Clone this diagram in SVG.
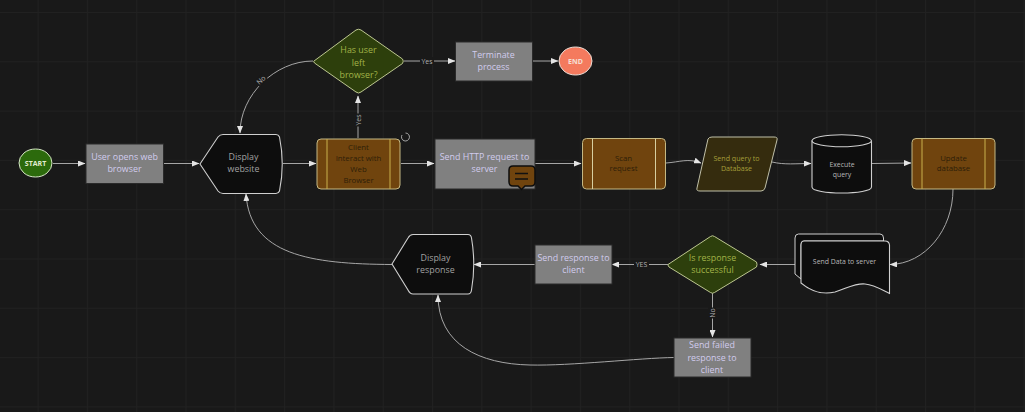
<svg xmlns="http://www.w3.org/2000/svg" width="1025" height="412" viewBox="0 0 1025 412">
<defs>
<marker id="a" markerWidth="8" markerHeight="6" refX="7" refY="3" orient="auto" markerUnits="userSpaceOnUse"><path d="M0 0L7.500 3L0 6Z" fill="#e4e4e4"/></marker>
<pattern id="grid" width="49.3" height="49.3" patternUnits="userSpaceOnUse" x="-11.700" y="12"><path d="M.5 0V49.300M0 .5H49.300" fill="none" stroke="#212121" stroke-width="1"/></pattern>
</defs>
<style>
text{font-family:"Open Sans","Noto Sans",sans-serif;text-anchor:middle;opacity:.98}
.c{fill:none;stroke:#a6a6a6;stroke-width:1;marker-end:url(#a)}
.g{fill:#808080;stroke:#2a2a2a;stroke-width:1}
.gt{fill:#d4cef0;font-size:8.900px}
.b{fill:#0d0d0d;stroke:#cfcfcf;stroke-width:1.100}
.bt{fill:#a4a4a4;font-size:8.900px}
.wt{fill:#bcbcbc;font-size:6.900px}
.o{fill:#70440e;stroke:#c4b884;stroke-width:1}
.ol{stroke:#c9b04c;stroke-width:1;fill:none}
.ot{fill:#2e1e08;font-size:7.800px}
.d{fill:#2d3f0c;stroke:#bcc690;stroke-width:1}
.dt{fill:#a5b64a;font-size:8.900px}
.l{fill:#b4b4b4;font-size:6.900px}
.lb{fill:#191919}
</style>
<rect width="1025" height="412" fill="#191919"/>
<rect width="1025" height="412" fill="url(#grid)"/>
<g id="connectors">
<path class="c" d="M53 163.500H85"/>
<path class="c" d="M164 163.500H199"/>
<path class="c" d="M283 163.500H316"/>
<path class="c" d="M401 163.500H434"/>
<path class="c" d="M535 163.500H581"/>
<path class="c" d="M666 163C680 162 688 158 701 163"/>
<path class="c" d="M772 162C785 165 795 163.500 811 163.500"/>
<path class="c" d="M872 163.500L911 163"/>
<path class="c" d="M953 189C953 230 925 264 890 264.500"/>
<path class="c" d="M795 264.500H760"/>
<path class="c" d="M668 264.500H612"/>
<path class="c" d="M535 264.500H474"/>
<path class="c" d="M392 264.500C310 264 250 255 246 194"/>
<path class="c" d="M712.500 293V337"/>
<path class="c" d="M674 357.500C640 358 570 366 530 365C480 364 438 345 438 295"/>
<path class="c" d="M358 138V96"/>
<path class="c" d="M313 61C275 61 240 95 240 133"/>
<path class="c" d="M404 61H455"/>
<path class="c" d="M533 61H558"/>
<g transform="translate(261 80) rotate(-42)"><rect class="lb" x="-5.500" y="-4" width="11" height="8"/><text class="l" y="2.500">No</text></g>
<g transform="translate(358 120) rotate(-90)"><rect class="lb" x="-6.500" y="-4" width="13" height="8"/><text class="l" y="2.500">Yes</text></g>
<rect class="lb" x="420" y="57" width="14" height="8"/><text class="l" x="427" y="63.500">Yes</text>
<rect class="lb" x="634" y="260" width="15" height="9"/><text class="l" x="641.500" y="266.500">YES</text>
<g transform="translate(712 313) rotate(-90)"><rect class="lb" x="-5.500" y="-4" width="11" height="8"/><text class="l" y="2.500">No</text></g>
</g>
<g id="start"><ellipse cx="35.500" cy="163" rx="16.500" ry="14" fill="#2c6a0c" stroke="#d8e8c8" stroke-width="1"/><text x="35.500" y="165.500" fill="#e6efd4" font-size="7px" font-weight="700">START</text></g>
<g id="user-opens"><rect class="g" x="86" y="144" width="77.500" height="39.500"/><text class="gt" x="124.500" y="160">User opens web</text><text class="gt" x="124.500" y="172">browser</text></g>
<g id="display-website"><path class="b" d="M200 164L218 137Q220 134.500 223 134.500H276Q278.500 134.500 279.500 137Q285 164 279.500 191Q278.500 193.500 276 193.500H223Q220 193.500 218 191Z"/><text class="bt" x="243.500" y="160">Display</text><text class="bt" x="243.500" y="172">website</text></g>
<g id="client"><rect class="o" x="317" y="139" width="83" height="50" rx="4"/><path class="ol" d="M327 139V189M390 139V189"/><text class="ot" x="358.500" y="150">Client</text><text class="ot" x="358.500" y="161">Interact with</text><text class="ot" x="358.500" y="172">Web</text><text class="ot" x="358.500" y="183">Browser</text></g>
<g id="send-http"><rect class="g" x="435" y="139" width="100" height="50" stroke="none"/><text class="gt" x="484.500" y="160">Send HTTP request to</text><text class="gt" x="484.500" y="172">server</text></g>
<g id="scan"><rect class="o" x="582.500" y="138.500" width="83" height="50.500" rx="4"/><path class="ol" d="M592.500 138.500V189M655.500 138.500V189" style="stroke:#d8cfa0"/><text class="ot" x="623.500" y="161">Scan</text><text class="ot" x="623.500" y="171">request</text></g>
<g id="send-query"><path d="M708 139Q709 137 712 137H774Q778 137 777 140L765 188Q764 191 761 191H700Q696 191 697 188Z" fill="#352c0e" stroke="#c0c0a8" stroke-width="1"/><text x="736.500" y="161" fill="#a8a03c" font-size="7.100px">Send query to</text><text x="736.500" y="171" fill="#a8a03c" font-size="7.100px">Database</text></g>
<g id="execute"><path class="b" d="M812 141V187C812 195 871.500 195 871.500 187V141Z"/><ellipse class="b" cx="841.700" cy="140.800" rx="29.700" ry="6"/><text class="wt" x="842" y="167">Execute</text><text class="wt" x="842" y="177">query</text></g>
<g id="update"><rect class="o" x="912" y="138.500" width="83" height="50.500" rx="4"/><path class="ol" d="M922 138.500V189M985 138.500V189"/><text class="ot" x="953.500" y="161">Update</text><text class="ot" x="953.500" y="171">database</text></g>
<g id="send-data"><path d="M801 279L795 274V238Q795 234 798.500 234H880Q883.500 234 883.500 238V241H804Q801 241 801 245Z" fill="#0d0d0d" stroke="#cfcfcf" stroke-width="1"/><path class="b" d="M801 245Q801 241 804 241H885Q889 241 889.500 245V293.500C882 290 875 285 865 284C855 283 848 288 835 292C822 295 812 292 801 283Z"/><text class="wt" x="844.500" y="264">Send Data to server</text></g>
<g id="response-decision"><path class="d" d="M668 264.500L710.500 236.500Q712.500 235 714.500 236.500L756.500 262Q757.500 264.500 756.500 267L714.500 292.500Q712.500 294 710.500 292.500L669 267Q667.500 264.500 668 264.500Z"/><text class="dt" x="712.500" y="261">Is response</text><text class="dt" x="712.500" y="273">successful</text></g>
<g id="send-response"><rect class="g" x="535" y="245" width="77" height="39"/><text class="gt" x="573.500" y="261">Send response to</text><text class="gt" x="573.500" y="273">client</text></g>
<g id="display-response"><path class="b" d="M392 264L408 238Q410 234.500 413 234.500H468Q471 234.500 471.500 238Q476 264.500 471.500 290Q471 294 468 294H413Q410 294 408 290Z"/><text class="bt" x="435.500" y="261">Display</text><text class="bt" x="435.500" y="273">response</text></g>
<g id="send-failed"><rect class="g" x="674" y="338" width="77" height="39"/><text class="gt" x="712" y="347.500">Send failed</text><text class="gt" x="712" y="361">response to</text><text class="gt" x="712" y="373">client</text></g>
<g id="left-decision"><path class="d" d="M314 61L356 30Q358.500 28.500 361 30L402.500 59Q404 61 402.500 63.500L361 92Q358.500 94 356 92L314.500 63Q313 61 314 61Z"/><text class="dt" x="358.500" y="53">Has user</text><text class="dt" x="358.500" y="66">left</text><text class="dt" x="358.500" y="78">browser?</text></g>
<g id="terminate"><rect class="g" x="455.500" y="42" width="77" height="39"/><text class="gt" x="493.500" y="58">Terminate</text><text class="gt" x="493.500" y="70">process</text></g>
<g id="end"><ellipse cx="575.500" cy="61" rx="16.500" ry="14" fill="#f47a5e" stroke="#eadfd8" stroke-width="1"/><text x="575.500" y="63.500" fill="#f4e0d8" font-size="7px" font-weight="700">END</text></g>
<g id="comment-badge"><path d="M513 166H531Q535 166 535 170V182Q535 186 531 186H525L521.500 189.500L518 186H513Q509 186 509 182V170Q509 166 513 166Z" fill="#70440e" stroke="#0d0d0d" stroke-width="1.500"/><path d="M515 173.500H528M515 179H528" stroke="#111" stroke-width="1.500"/></g>
<g id="rotate-handle"><path d="M402 135A4 4 0 1 0 405.500 133" fill="none" stroke="#c8c8c8" stroke-width=".8"/></g>
</svg>
